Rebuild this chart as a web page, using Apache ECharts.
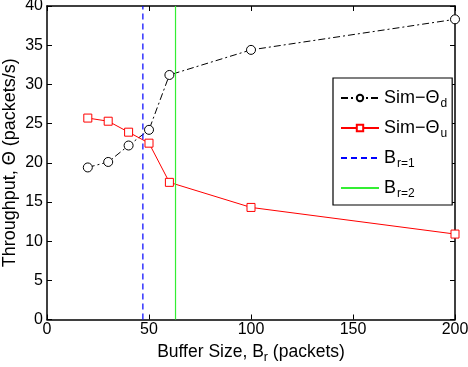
<!DOCTYPE html>
<html><head><meta charset="utf-8">
<script src="https://cdn.jsdelivr.net/npm/echarts@6/dist/echarts.min.js"></script>
<style>html,body{margin:0;padding:0;background:#fff}#c{width:468px;height:367px}</style>
</head><body><div id="c"></div>
<script>
const bufferSizes = [20, 30, 40, 50, 60, 100, 200];
const simThetaD = [19.4, 20.1, 22.2, 24.2, 31.2, 34.4, 38.3];
const simThetaU = [25.7, 25.3, 23.9, 22.5, 17.5, 14.3, 10.9];
const br1 = 47;
const br2 = 63;
const yRange = [0, 40];
const xTicks = [0, 50, 100, 150, 200];

const F = '"Liberation Sans", Arial, Helvetica, sans-serif';
const legendNames = ['Sim-Θd', 'Sim-Θu', 'Br=1', 'Br=2'];
const legendRich = {
  '0': '{m|Sim−Θ}{s|d}',
  '1': '{m|Sim−Θ}{s|u}',
  '2': '{m|B}{s|r=1}',
  '3': '{m|B}{s|r=2}'
};

const chart = echarts.init(document.getElementById('c'), null, {renderer: 'canvas'});
const axisCommon = () => ({
  axisLine: {show: true, onZero: false, lineStyle: {color: '#000', width: 1.5}},
  axisTick: {show: true, inside: true, length: 5, lineStyle: {color: '#000', width: 1}},
  splitLine: {show: false}
});
chart.setOption({
  animation: false,
  backgroundColor: '#fff',
  grid: {left: 47, right: 13, top: 6, bottom: 47.5, containLabel: false, outerBoundsMode: 'none'},
  xAxis: [Object.assign({
    type: 'value', min: 0, max: 200, interval: 50, position: 'bottom',
    name: '{m|Buffer Size, B}{s|r}{m| (packets)}', nameLocation: 'middle', nameGap: 23,
    nameMoveOverlap: false,
    nameTextStyle: {rich: {
      m: {fontFamily: F, fontSize: 17.5, color: '#000', lineHeight: 20},
      s: {fontFamily: F, fontSize: 12.5, color: '#000', lineHeight: 20, padding: [11, 0, 0, 0]}
    }},
    axisLabel: {fontFamily: F, fontSize: 16, color: '#000', margin: 2,
      formatter: v => xTicks.includes(v) ? String(v) : ''}
  }, axisCommon()), Object.assign({
    type: 'value', min: 0, max: 200, interval: 50, position: 'top',
    axisLabel: {show: false}
  }, axisCommon())],
  yAxis: [Object.assign({
    type: 'value', min: yRange[0], max: yRange[1], interval: 5, position: 'left',
    name: 'Throughput, Θ (packets/s)', nameLocation: 'middle', nameGap: 28,
    nameMoveOverlap: false,
    nameTextStyle: {fontFamily: F, fontSize: 18, color: '#000'},
    axisLabel: {fontFamily: F, fontSize: 16, color: '#000', margin: 4}
  }, axisCommon()), Object.assign({
    type: 'value', min: yRange[0], max: yRange[1], interval: 5, position: 'right',
    axisLabel: {show: false}
  }, axisCommon())],
  legend: {
    orient: 'vertical', left: 333, top: 78,
    backgroundColor: '#fff', borderColor: '#000', borderWidth: 1.2, borderRadius: 0,
    padding: [8, 5, 5, 7], itemGap: 6, itemWidth: 38, itemHeight: 8,
    data: [
      {name: legendNames[0]},
      {name: legendNames[1]},
      {name: legendNames[2], itemStyle: {opacity: 0}},
      {name: legendNames[3], itemStyle: {opacity: 0}}
    ],
    formatter: name => legendRich[legendNames.indexOf(name)],
    textStyle: {rich: {
      m: {fontFamily: F, fontSize: 18, color: '#000', lineHeight: 22},
      s: {fontFamily: F, fontSize: 12, color: '#000', lineHeight: 22, padding: [12, 0, 0, 1]}
    }}
  },
  series: [
    {name: 'Sim-Θd', type: 'line', data: bufferSizes.map((x, i) => [x, simThetaD[i]]),
      symbol: 'circle', symbolSize: 9,
      itemStyle: {color: '#fff', borderColor: '#000', borderWidth: 1},
      lineStyle: {color: '#000', width: 1, type: [7, 3, 2, 3]}, z: 3},
    {name: 'Sim-Θu', type: 'line', data: bufferSizes.map((x, i) => [x, simThetaU[i]]),
      symbol: 'rect', symbolSize: 8,
      itemStyle: {color: '#fff', borderColor: '#ff0000', borderWidth: 1},
      lineStyle: {color: '#ff0000', width: 1}, z: 3},
    {name: 'Br=1', type: 'line', data: [[br1, yRange[0]], [br1, yRange[1]]], symbol: 'none',
      itemStyle: {color: '#0000ff'},
      lineStyle: {color: '#0000ff', width: 1.2, type: [6, 4]}},
    {name: 'Br=2', type: 'line', data: [[br2, yRange[0]], [br2, yRange[1]]], symbol: 'none',
      itemStyle: {color: '#33ee33'},
      lineStyle: {color: '#33ee33', width: 1.2}}
  ]
});
</script></body></html>
